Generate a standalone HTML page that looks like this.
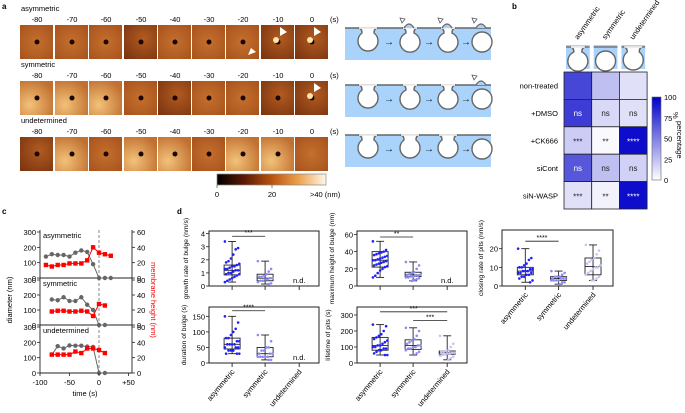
<!DOCTYPE html>
<html><head><meta charset="utf-8"><style>
body{margin:0;background:#fff}
svg{display:block;font-family:"Liberation Sans",sans-serif}
</style></head><body>
<svg id="fig" width="685" height="413" viewBox="0 0 685 413" xmlns="http://www.w3.org/2000/svg">
<defs>
<linearGradient id="cbar" x1="0" x2="1" y1="0" y2="0"><stop offset="0" stop-color="#000"/><stop offset="0.25" stop-color="#5a1a05"/><stop offset="0.5" stop-color="#b8520f"/><stop offset="0.75" stop-color="#eba24e"/><stop offset="1" stop-color="#fff8ea"/></linearGradient>
<linearGradient id="hcbar" x1="0" x2="0" y1="1" y2="0"><stop offset="0" stop-color="#fff"/><stop offset="1" stop-color="#0000c8"/></linearGradient>
<radialGradient id="tileA" cx="0.5" cy="0.5" r="0.7"><stop offset="0" stop-color="#c4702e"/><stop offset="1" stop-color="#a8521c"/></radialGradient>
<radialGradient id="tileB" cx="0.3" cy="0.7" r="0.8"><stop offset="0" stop-color="#f2c27a"/><stop offset="1" stop-color="#c27030"/></radialGradient>
<radialGradient id="tileC" cx="0.6" cy="0.4" r="0.8"><stop offset="0" stop-color="#b25a20"/><stop offset="1" stop-color="#7a3510"/></radialGradient>
</defs>
<g id="pa"></g>
<g id="pschem"></g>
<g id="pb"></g>
<g id="pc"></g>
<g id="pd"></g>
</svg>
<script>
const timeLabels=["-80","-70","-60","-50","-40","-30","-20","-10","0"];
const rowNames=["asymmetric","symmetric","undetermined"];
const tileFills=[["tileA","tileA","tileA","tileC","tileA","tileA","tileA","tileC","tileC"],
 ["tileB","tileB","tileB","tileA","tileC","tileA","tileA","tileC","tileC"],
 ["tileC","tileB","tileA","tileB","tileB","tileA","tileB","tileB","tileA"]];
const hmRows=["non-treated","+DMSO","+CK666","siCont","siN-WASP"];
const hmCols=["asymmetric","symmetric","undetermined"];
const hmVals=[[72,25,12],[76,15,12],[20,2,95],[66,25,18],[12,5,95]];
const hmText=[["","",""],["ns","ns","ns"],["***","**","****"],["ns","ns","ns"],["***","**","****"]];
const hmTicks=[0,25,50,75,100];
const cTimesA=[-90,-80,-70,-60,-50,-40,-30,-20,-10,0,10,20];
const cDiamA=[140,155,150,150,140,165,180,170,90,0,0,0];
const cHeightA=[17,15,17,17,19,19,19,23,40,33,31,29];
const cTimesS=[-80,-70,-60,-50,-40,-30,-20,-10,0,10];
const cDiamS=[170,165,185,160,160,185,135,100,0,0];
const cHeightS=[18,19,19,18,18,19,18,12,28,26];
const cTimesU=[-80,-70,-60,-50,-40,-30,-20,-10,0,10];
const cDiamU=[120,175,160,180,178,178,172,170,0,0];
const cHeightU=[24,24,24,24,28,26,32,32,30,26];
const cXTicks=[-100,-50,0,50];
const cXTickLabels=["-100","-50","0","+50"];
const growthBox=[[0.3,0.85,1.2,1.6,3.4],[0.15,0.4,0.6,0.9,1.9],null];
const growthPts=[[3.4,2.9,2.8,2.4,2.1,1.9,1.8,1.7,1.6,1.5,1.5,1.4,1.3,1.3,1.2,1.2,1.1,1.0,1.0,0.9,0.9,0.8,0.7,0.6,0.5,0.4,0.3],[1.9,1.3,1.1,0.9,0.8,0.7,0.7,0.6,0.6,0.5,0.5,0.4,0.4,0.3,0.2,0.15],[]];
const heightBox=[[10,22,30,40,52],[6,11,13,16,28],null];
const heightPts=[[52,42,40,39,38,37,36,35,34,33,32,31,30,30,29,28,27,26,25,24,23,22,20,18,15,12,10],[28,24,20,16,15,14,13,13,12,12,11,11,10,10,9,8,7,6],[]];
const durBox=[[30,45,60,80,150],[10,20,30,50,90],null];
const durPts=[[150,130,110,100,90,80,80,70,70,60,60,60,60,50,50,50,40,40,40,30,30,30],[90,70,50,50,40,40,30,30,30,20,20,20,20,20,10,10],[]];
const lifeBox=[[50,80,110,160,240],[50,85,110,145,220],[20,55,65,75,170]];
const lifePts=[[240,230,200,180,170,160,150,140,130,120,110,110,100,100,90,90,80,80,70,60,50,50],[220,200,170,150,140,130,120,110,110,100,100,90,90,80,70,60,50],[170,120,100,80,75,70,70,65,65,60,60,55,50,45,40,30,20]];
const closeBox=[[2,6,8,10,20],[1,3,4,5,8],[3,6,10.5,15,22]];
const closePts=[[20,15,14,12,11,10,10,9,9,8,8,8,7,7,7,6,6,5,5,4,3,2],[8,7,6,5,5,5,4,4,4,4,3,3,3,3,2,2,1],[22,19,17,15,14,13,12,11,10,10,9,8,7,6,5,4,3,3]];
const dCats=["asymmetric","symmetric","undetermined"];

const NS="http://www.w3.org/2000/svg";
function mk(parent,tag,attrs,text){const e=document.createElementNS(NS,tag);for(const k in attrs)e.setAttribute(k,attrs[k]);if(text!==undefined)e.textContent=text;parent.appendChild(e);return e;}

const pa=document.getElementById('pa');
let t=mk(pa,'text',{x:2,y:9,'font-size':8,'font-weight':'bold'},'a');

const tileX=[20,55,89,124,158,192,226,261,295];
const rowY=[25,81,137];
rowNames.forEach((rn,r)=>{
  let l=mk(pa,'text',{x:21,y:rowY[r]-14,'font-size':7.5},rn);
  
  timeLabels.forEach((tl,i)=>{
    let tx=mk(pa,'text',{x:tileX[i]+17,y:rowY[r]-3,'font-size':7.5,'text-anchor':'middle'},tl);
    
    let rc=mk(pa,'rect',{x:tileX[i],y:rowY[r],width:33,height:34,fill:'url(#'+tileFills[r][i]+')'});
    
    if(!(r===2&&i===8)){
      let d=mk(pa,'circle',{cx:tileX[i]+17,cy:rowY[r]+17,r:2.5,fill:'#1a0500'});
      
    }
  });
  let s=mk(pa,'text',{x:330,y:rowY[r]-3,'font-size':7.5},'(s)');
  
});
[[0,7],[0,8],[1,8]].forEach(([r,i])=>{
  let b=mk(pa,'circle',{cx:tileX[i]+15,cy:rowY[r]+15,r:3,fill:'#ffe3a8'});
  
  let tr=mk(pa,'path',{d:`M${tileX[i]+19},${rowY[r]+2} l7,5 l-7,4z`,fill:'#fff'});
  
});
let tr6=mk(pa,'path',{d:`M${tileX[6]+30},${rowY[0]+27} l-8,3 l3,-7z`,fill:'#fff'});

let cb=mk(pa,'rect',{x:217,y:174,width:109,height:11,fill:'url(#cbar)',stroke:'#888','stroke-width':0.7});

[["0",217],["20",272],[">40 (nm)",310]].forEach(([s,x],i)=>{
  let e=mk(pa,'text',{x:x,y:197,'font-size':7.5,'text-anchor':i==2?'start':'middle'},s);
  
  if(i<2){let k=mk(pa,'line',{x1:x,x2:x,y1:185,y2:188,stroke:'#333','stroke-width':0.6});}
});

const ps=document.getElementById('pschem');
function pit(g,cx,top,stage){
  const r=10,cy=top+14;
  if(stage===3){
    mk(g,'circle',{cx:cx,cy:cy,r:r,fill:'#fff',stroke:'#666','stroke-width':1.4});
  } else {
    const w=stage===0?6:4;
    const yy=top+5;
    mk(g,'path',{d:`M${cx-w-4},${top} Q${cx-w},${top} ${cx-w},${yy} A${r},${r} 0 1 0 ${cx+w},${yy} Q${cx+w},${top} ${cx+w+4},${top} Z`,fill:'#fff',stroke:'#666','stroke-width':1.4});
    mk(g,'line',{x1:cx-w-3,x2:cx+w+3,y1:top,y2:top,stroke:'#fff','stroke-width':1.6});
  }
}
const schemTop=[28,85,135];
const pitX=[368,410,448,482];
const arrowX=[389,429,466];
schemTop.forEach((top,r)=>{
  let g=mk(ps,'g',{});
  
  mk(g,'rect',{x:345,y:top,width:146,height:32,fill:'#a9d3fb'});
  mk(g,'line',{x1:345,x2:491,y1:top,y2:top,stroke:'#666','stroke-width':1.4});
  pitX.forEach((x,i)=>pit(g,x,top,i===3?3:(r===2?0:(i===0?0:1))));
  arrowX.forEach(x=>{mk(g,'text',{x:x,y:top+17,'font-size':10,'text-anchor':'middle',fill:'#111'},'→');});
  const bul = r===0?[1,2,3]:(r===1?[3]:[]);
  bul.forEach(i=>{
    mk(g,'path',{d:`M${pitX[i]-6},${top} q5,-8 10,0`,fill:'#a9d3fb',stroke:'#666','stroke-width':1.2});
    mk(g,'path',{d:`M${pitX[i]-10},${top-10} l5,1 l-3,4z`,fill:'#fff',stroke:'#555','stroke-width':0.8});
  });
});

const pb=document.getElementById('pb');
let bl=mk(pb,'text',{x:512,y:9,'font-size':8,'font-weight':'bold'},'b');

const hx0=564,hcw=27.7,hy0=72,hrh=27.4;
function hcol(v){const f=v/100;const r=Math.round(255-255*f),gg=Math.round(255-255*f),b=Math.round(255-(255-200)*f);return `rgb(${r},${gg},${b})`;}
hmCols.forEach((c,j)=>{
  let lab=mk(pb,'text',{x:0,y:0,'font-size':7.5,transform:`translate(${hx0+j*hcw+14},40) rotate(-55)`},c);
  
  let ig=mk(pb,'g',{});
  
  mk(ig,'rect',{x:hx0+j*hcw+2,y:45,width:hcw-4,height:24,fill:'#a9d3fb'});
  mk(ig,'line',{x1:hx0+j*hcw+2,x2:hx0+(j+1)*hcw-2,y1:47,y2:47,stroke:'#666','stroke-width':1.2});
  pit(ig,hx0+j*hcw+hcw/2,47,j===0?1:(j===1?3:0));
});
hmRows.forEach((rn,i)=>{
  let l=mk(pb,'text',{x:558,y:hy0+i*hrh+hrh/2+3,'font-size':7.5,'text-anchor':'end'},rn);
  
  hmVals[i].forEach((v,j)=>{
    let c=mk(pb,'rect',{x:hx0+j*hcw,y:hy0+i*hrh,width:hcw,height:hrh,fill:hcol(v),stroke:'#222','stroke-width':0.8});
    
    if(hmText[i][j]){
      let tt=mk(pb,'text',{x:hx0+j*hcw+hcw/2,y:hy0+i*hrh+hrh/2+(hmText[i][j]==='ns'?3:4),'font-size':8,'text-anchor':'middle',fill:v>55?'#fff':'#222'},hmText[i][j]);
      
    }
  });
});
let hc=mk(pb,'rect',{x:652,y:97,width:9,height:83,fill:'url(#hcbar)',stroke:'#666','stroke-width':0.6});

hmTicks.forEach(v=>{
  const y=180-v/100*83;
  let e=mk(pb,'text',{x:664,y:y+3,'font-size':7.5},String(v));
  
});
let pct=mk(pb,'text',{x:0,y:0,'font-size':7.5,transform:'translate(673,112) rotate(90)'},'%');

let pctl=mk(pb,'text',{x:0,y:0,'font-size':7.5,transform:'translate(677,121) rotate(90)'},'percentage');


const pc=document.getElementById('pc');
let cl=mk(pc,'text',{x:2,y:214,'font-size':8,'font-weight':'bold'},'c');

const cx0=40,cx1=132;
const xS=tv=>99+tv*0.59;
const panels=[{top:230,bot:278,t:cTimesA,d:cDiamA,h:cHeightA,name:'asymmetric'},{top:278,bot:325,t:cTimesS,d:cDiamS,h:cHeightS,name:'symmetric'},{top:325,bot:373,t:cTimesU,d:cDiamU,h:cHeightU,name:'undetermined'}];
panels.forEach((p)=>{
  const yS=v=>p.bot-(v/300)*(p.bot-p.top-2);
  const yH=v=>p.bot-(v/60)*(p.bot-p.top-2);
  let g=mk(pc,'g',{});
  mk(g,'line',{x1:cx0,x2:cx0,y1:p.top,y2:p.bot,stroke:'#222','stroke-width':0.9});
  mk(g,'line',{x1:cx1,x2:cx1,y1:p.top,y2:p.bot,stroke:'#222','stroke-width':0.9});
  mk(g,'line',{x1:cx0,x2:cx1,y1:p.bot,y2:p.bot,stroke:'#222','stroke-width':0.9});
  [0,100,200,300].forEach(v=>{mk(g,'line',{x1:cx0-3,x2:cx0,y1:yS(v),y2:yS(v),stroke:'#222','stroke-width':0.8});
    let e=mk(g,'text',{x:cx0-4,y:yS(v)+3,'font-size':7.5,'text-anchor':'end'},String(v));});
  [0,20,40,60].forEach(v=>{mk(g,'line',{x1:cx1,x2:cx1+3,y1:yH(v),y2:yH(v),stroke:'#222','stroke-width':0.8});
    let e=mk(g,'text',{x:cx1+5,y:yH(v)+3,'font-size':7.5},String(v));});
  let n=mk(g,'text',{x:cx0+3,y:p.top+8,'font-size':7.5},p.name);
  mk(g,'line',{x1:xS(0),x2:xS(0),y1:p.top,y2:p.bot,stroke:'#555','stroke-width':0.7,'stroke-dasharray':'3,2'});
  let gd=p.t.map((tv,i)=>`${xS(tv)},${yS(p.d[i])}`).join(' ');
  let pl=mk(g,'polyline',{points:gd,fill:'none',stroke:'#666','stroke-width':1});
  p.t.forEach((tv,i)=>{let c=mk(g,'circle',{cx:xS(tv),cy:yS(p.d[i]),r:2.2,fill:'#666'});});
  let hd=p.t.map((tv,i)=>`${xS(tv)},${yH(p.h[i])}`).join(' ');
  let pr=mk(g,'polyline',{points:hd,fill:'none',stroke:'#f00','stroke-width':1});
  p.t.forEach((tv,i)=>{let c=mk(g,'rect',{x:xS(tv)-2.2,y:yH(p.h[i])-2.2,width:4.4,height:4.4,fill:'#f00'});});
});
cXTicks.forEach((v,i)=>{mk(pc,'line',{x1:xS(v),x2:xS(v),y1:373,y2:376,stroke:'#222','stroke-width':0.8});
  let e=mk(pc,'text',{x:xS(v),y:385,'font-size':7.5,'text-anchor':'middle'},cXTickLabels[i]);});
let xt=mk(pc,'text',{x:85,y:396,'font-size':7.5,'text-anchor':'middle'},'time (s)');
let yt=mk(pc,'text',{x:0,y:0,'font-size':7.5,'text-anchor':'middle',transform:'translate(12,300) rotate(-90)'},'diameter (nm)');
let y2t=mk(pc,'text',{x:0,y:0,'font-size':7.5,'text-anchor':'middle',fill:'#f00',transform:'translate(151,300) rotate(90)'},'membrane height (nm)');

const pd=document.getElementById('pd');
let dl=mk(pd,'text',{x:177,y:214,'font-size':8,'font-weight':'bold'},'d');

const ptCol=['#1f1fff','#8c8cf2','#c4c4f6'];
function boxPlot(o){
  const g=mk(pd,'g',{});
  
  const yS=v=>o.bot-(v/o.ymax)*(o.bot-o.top);
  mk(g,'rect',{x:o.x0,y:o.top,width:o.x1-o.x0,height:o.bot-o.top,fill:'none',stroke:'#222','stroke-width':1});
  o.ticks.forEach(v=>{mk(g,'line',{x1:o.x0-3,x2:o.x0,y1:yS(v),y2:yS(v),stroke:'#222','stroke-width':0.8});
    let e=mk(g,'text',{x:o.x0-4,y:yS(v)+3,'font-size':7.5,'text-anchor':'end'},String(v));});
  const cxs=[o.x0+(o.x1-o.x0)*0.21,o.x0+(o.x1-o.x0)*0.51,o.x0+(o.x1-o.x0)*0.82];
  cxs.forEach((cx,i)=>{
    mk(g,'line',{x1:cx,x2:cx,y1:o.bot,y2:o.bot+4,stroke:'#222','stroke-width':0.9});
    const b=o.box[i];
    if(!b){let e=mk(g,'text',{x:cx,y:o.bot-3,'font-size':7.5,'text-anchor':'middle'},'n.d.');return;}
    const w=8;
    let bx=mk(g,'g',{});
    mk(bx,'line',{x1:cx,x2:cx,y1:yS(b[0]),y2:yS(b[4]),stroke:'#222','stroke-width':0.9});
    mk(bx,'line',{x1:cx-4,x2:cx+4,y1:yS(b[0]),y2:yS(b[0]),stroke:'#222','stroke-width':0.9});
    mk(bx,'line',{x1:cx-4,x2:cx+4,y1:yS(b[4]),y2:yS(b[4]),stroke:'#222','stroke-width':0.9});
    mk(bx,'rect',{x:cx-w,y:yS(b[3]),width:2*w,height:yS(b[1])-yS(b[3]),fill:'none',stroke:'#222','stroke-width':0.9});
    mk(bx,'line',{x1:cx-w,x2:cx+w,y1:yS(b[2]),y2:yS(b[2]),stroke:'#222','stroke-width':0.9});
    o.pts[i].forEach((v,k)=>{
      const off=((k*37)%13-6)*1.2;
      let c=mk(bx,'circle',{cx:cx+off,cy:yS(v),r:1.3,fill:ptCol[i]});
      
    });
  });
  o.sig.forEach(([a,b2,v,s])=>{
    mk(g,'line',{x1:cxs[a],x2:cxs[b2],y1:yS(v),y2:yS(v),stroke:'#222','stroke-width':0.8});
    let e=mk(g,'text',{x:(cxs[a]+cxs[b2])/2,y:yS(v)-1,'font-size':7,'text-anchor':'middle'},s);
  });
  let yl=mk(g,'text',{x:0,y:0,'font-size':6.8,'text-anchor':'middle',transform:`translate(${o.ylx},${(o.top+o.bot)/2}) rotate(-90)`},o.ylabel);
  
  if(o.xlab){cxs.forEach((cx,i)=>{let e=mk(g,'text',{x:0,y:0,'font-size':7.5,'text-anchor':'end',transform:`translate(${cx+3},${o.bot+9}) rotate(-50)`},dCats[i]);});}
}
boxPlot({name:'growth-rate-plot',x0:209,x1:319,top:231,bot:286,ymax:4.2,ticks:[0,1,2,3,4],box:growthBox,pts:growthPts,sig:[[0,1,3.8,'***']],ylabel:'growth rate of bulge (nm/s)',ylx:188,xlab:false});
boxPlot({name:'duration-plot',x0:209,x1:319,top:307,bot:363,ymax:180,ticks:[0,50,100,150],box:durBox,pts:durPts,sig:[[0,1,168,'****']],ylabel:'duration of bulge (s)',ylx:186,xlab:true});
boxPlot({name:'max-height-plot',x0:357,x1:467,top:231,bot:286,ymax:64,ticks:[0,20,40,60],box:heightBox,pts:heightPts,sig:[[0,1,57,'**']],ylabel:'maximum height of bulge (nm)',ylx:334,xlab:false});
boxPlot({name:'lifetime-plot',x0:357,x1:467,top:307,bot:363,ymax:350,ticks:[0,100,200,300],box:lifeBox,pts:lifePts,sig:[[0,2,320,'***'],[1,2,265,'***']],ylabel:'lifetime of pits (s)',ylx:330,xlab:true});
boxPlot({name:'closing-rate-plot',x0:502,x1:613,top:230,bot:286,ymax:30,ticks:[0,10,20],box:closeBox,pts:closePts,sig:[[0,1,24,'****']],ylabel:'closing rate of pits (nm/s)',ylx:483,xlab:true});
</script>
</body></html>
